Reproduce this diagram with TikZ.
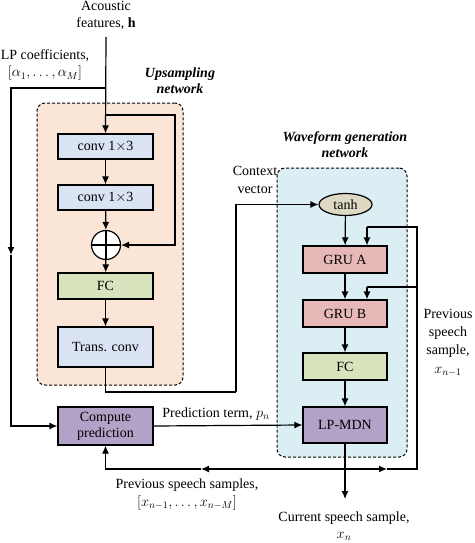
\documentclass[tikz,border=0pt]{standalone}
\usepackage{fontspec}
\setmainfont{Liberation Serif}
\usetikzlibrary{arrows.meta,shapes.geometric}
\definecolor{peach}{HTML}{FBE5D6}
\definecolor{convblue}{HTML}{DAE3F3}
\definecolor{fcgreen}{HTML}{D7E4BD}
\definecolor{grupink}{HTML}{E6B9B8}
\definecolor{lppurple}{HTML}{B3A2C7}
\definecolor{tanfill}{HTML}{DDD9C3}
\definecolor{wavebg}{HTML}{DAEEF3}
\tikzset{
  lbl/.style={align=center,inner sep=0pt,font=\fontsize{14}{17.5}\selectfont},
  hdr/.style={align=center,inner sep=0pt,font=\fontsize{14}{16.5}\selectfont\bfseries\itshape},
  blk/.style={draw,line width=1.2pt,minimum width=95pt,inner sep=0pt,font=\fontsize{14}{16}\selectfont},
  wblk/.style={draw,line width=1.2pt,minimum width=84pt,inner sep=0pt,font=\fontsize{14}{16}\selectfont},
  grp/.style={draw,dashed,dash pattern=on 3pt off 2pt,line width=1pt,rounded corners=8pt},
  conn/.style={line width=1.2pt},
  arr/.style={line width=1.2pt,-{Latex[length=8pt,width=7pt]}},
}
\begin{document}
\begin{tikzpicture}[x=1pt,y=-1pt]
\useasboundingbox (0,0) rectangle (474,543);
% groups
\node[grp,fill=peach,minimum width=146pt,minimum height=282pt] (upg) at (110,244) {};
\node[grp,fill=wavebg,minimum width=130pt,minimum height=289pt] (wvg) at (342,312.5) {};
\node[hdr] (uph) at (180,80.5) {Upsampling\\network};
\node[hdr] (wvh) at (345,144.5) {Waveform generation\\network};
% upsampling blocks
\node[blk,fill=convblue,minimum height=25pt] (conv1) at (105.5,146.5) {conv 1$\times$3};
\node[blk,fill=convblue,minimum height=25pt] (conv2) at (105.5,197.5) {conv 1$\times$3};
\node[draw,circle,line width=1.2pt,fill=white,minimum size=29pt,inner sep=0pt] (plus) at (106,245) {};
\draw[line width=1.2pt] (plus.north) -- (plus.south) (plus.west) -- (plus.east);
\node[blk,fill=fcgreen,minimum height=26pt] (fc1) at (105.5,286) {FC};
\node[blk,fill=convblue,minimum height=40pt] (trans) at (105.5,347) {Trans. conv};
\node[blk,fill=lppurple,minimum height=38pt,align=center] (comp) at (105.5,426) {Compute\\prediction};
% waveform blocks
\node[draw,ellipse,line width=1.2pt,fill=tanfill,minimum width=53pt,minimum height=22pt,inner sep=0pt,font=\fontsize{14}{16}\selectfont] (tanh) at (345.5,204.5) {tanh};
\node[wblk,fill=grupink,minimum height=27pt] (grua) at (345,259.5) {GRU A};
\node[wblk,fill=grupink,minimum height=27pt] (grub) at (345,313.5) {GRU B};
\node[wblk,fill=fcgreen,minimum height=27pt] (fc2) at (345,366.5) {FC};
\node[wblk,fill=lppurple,minimum height=36pt] (lpmdn) at (345,425) {LP-MDN};
% labels
\node[lbl] (ac) at (106,15.5) {Acoustic\\features, \textbf{h}};
\node[lbl] (lpc) at (45,65) {LP coefficients,\\$[\alpha_1, \dots, \alpha_M]$};
\node[lbl] (ctx) at (255,180) {Context\\vector};
\node[lbl] (pt) at (216,414) {Prediction term, $p_n$};
\node[lbl] (pss) at (187,494.5) {Previous speech samples,\\$[x_{n-1}, \dots, x_{n-M}]$};
\node[lbl,font=\fontsize{14}{17}\selectfont] (css) at (344,526.5) {Current speech sample,\\$x_n$};
\node[lbl,font=\fontsize{14}{18.3}\selectfont] (rps) at (448,342.5) {Previous\\speech\\sample,\\$x_{n-1}$};
% coordinates
\coordinate (top) at (106,37);
\coordinate (jlp) at (106,88);
\coordinate (lpa) at (11,255);
\coordinate (jsk) at (106,115);
\coordinate (skr) at (175,115);
\coordinate (tro) at (236,392);
\coordinate (jb) at (345,469);
\coordinate (bl) at (201,469);
\coordinate (br) at (387,469);
\coordinate (rv) at (417,227);
\coordinate (rv2) at (417,287);
\coordinate (ina) at (367,227);
\coordinate (inb) at (367,287);
\coordinate (outx) at (345,499);
% connectors
\draw[arr] (top) -- (conv1.north);
\draw[arr] (jlp) -| (lpa);
\draw[arr] (lpa) |- (comp.west);
\draw[arr] (jsk) -| (skr) |- (plus.east);
\draw[arr] (conv1) -- (conv2);
\draw[arr] (conv2) -- (plus);
\draw[arr] (plus) -- (fc1);
\draw[arr] (fc1) -- (trans);
\draw[conn] (trans.south) |- (tro);
\draw[arr] (tro) |- (tanh.west);
\draw[arr] (tanh) -- (grua);
\draw[arr] (grua) -- (grub);
\draw[arr] (grub) -- (fc2);
\draw[arr] (fc2) -- (lpmdn);
\draw[arr] (comp.east) -- (lpmdn.west);
\draw[arr] (lpmdn.south) -- (outx);
\draw[arr] (jb) -- (bl);
\draw[arr] (bl) -| (comp.south);
\draw[arr] (jb) -- (br);
\draw[conn] (br) -| (rv) -- (ina);
\draw[arr] (ina) -- (ina |- grua.north);
\draw[conn] (rv2) -- (inb);
\draw[arr] (inb) -- (inb |- grub.north);
\end{tikzpicture}
\end{document}
